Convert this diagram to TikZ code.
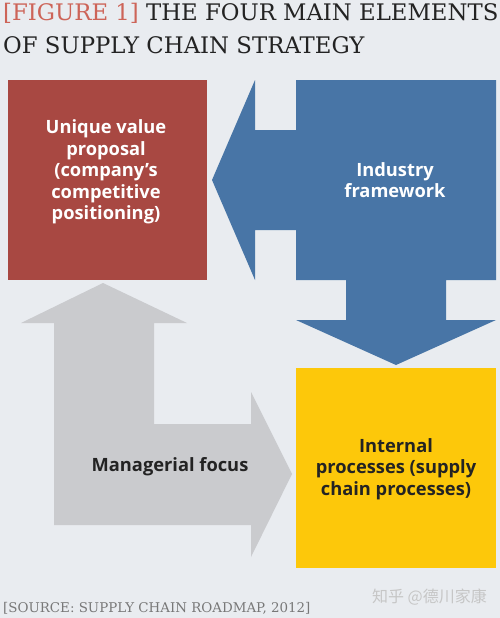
\documentclass[tikz,border=0pt]{standalone}
\usepackage{fontspec}
\setmainfont{DejaVu Serif}
\setsansfont{Open Sans}
\newfontfamily\cjk{Noto Sans CJK SC}
\definecolor{bg}{RGB}{233,236,240}
\definecolor{redc}{RGB}{168,72,66}
\definecolor{bluec}{RGB}{72,117,166}
\definecolor{yellowc}{RGB}{253,200,10}
\definecolor{grayc}{RGB}{202,203,206}
\definecolor{titlered}{RGB}{205,100,88}
\definecolor{titleblack}{RGB}{35,35,35}
\definecolor{srcgray}{RGB}{120,120,120}
\tikzset{
  boxtext/.style={align=center, font=\sffamily\bfseries\fontsize{18.3}{21.5}\selectfont},
  titletext/.style={anchor=base west, inner sep=0pt, text=titleblack, font=\fontsize{22.8}{26}\selectfont},
}
\begin{document}
\begin{tikzpicture}[x=1pt,y=-1pt]
\useasboundingbox (0,0) rectangle (500,618);
\fill[bg] (0,0) rectangle (500,618);
% title
\node[titletext] (t1) at (3,21) {{\color{titlered}[FIGURE 1]} THE FOUR MAIN ELEMENTS};
\node[titletext] (t2) at (3,53) {OF SUPPLY CHAIN STRATEGY};
% red box
\fill[redc] (8,80) rectangle (207,280);
\node[boxtext, text=white] (uvp) at (106,172) {Unique value\\proposal\\(company's\\competitive\\positioning)};
% blue shape
\fill[bluec] (212,180) -- (255,80) -- (255,130) -- (296,130) -- (296,80) -- (496,80) -- (496,280)
  -- (446,280) -- (446,320) -- (496,320) -- (396,365) -- (296,320) -- (346,320) -- (346,280)
  -- (296,280) -- (296,230) -- (255,230) -- (255,280) -- cycle;
\node[boxtext, text=white] (ind) at (395,180) {Industry\\framework};
% gray shape
\fill[grayc] (103,283) -- (187,323) -- (154,323) -- (154,424) -- (251,424) -- (251,392) -- (292,474)
  -- (251,557) -- (251,525) -- (54,525) -- (54,323) -- (21,323) -- cycle;
\node[boxtext, text=titleblack] (man) at (170,467) {Managerial focus};
% yellow box
\fill[yellowc] (296,368) rectangle (496,568);
\node[boxtext, text=titleblack] (int) at (396,469) {Internal\\processes (supply\\chain processes)};
% source
\node[anchor=base west, inner sep=0pt, text=srcgray, font=\fontsize{13.4}{16}\selectfont] (src) at (3,612) {[SOURCE: SUPPLY CHAIN ROADMAP, 2012]};
\node[anchor=east, inner sep=0pt, text=gray!45, font=\cjk\fontsize{16}{18}\selectfont] (wm) at (487,597) {知乎 @德川家康};
\end{tikzpicture}
\end{document}
